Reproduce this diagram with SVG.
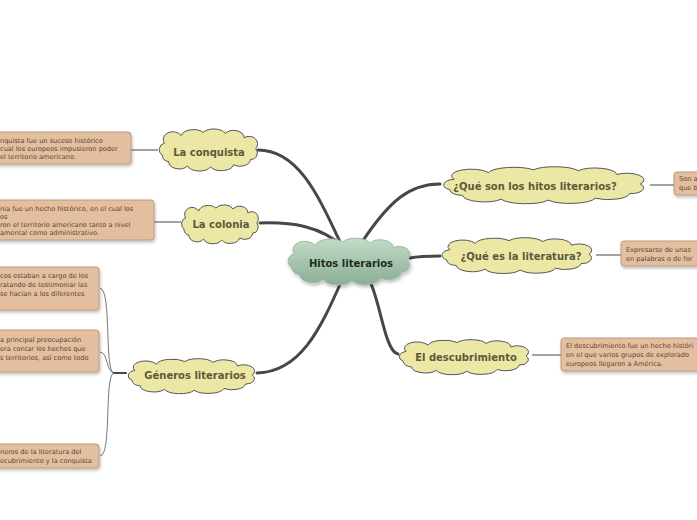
<svg xmlns="http://www.w3.org/2000/svg" xmlns:xlink="http://www.w3.org/1999/xlink" width="697" height="520" viewBox="0 0 697 520">
<defs>
<path id="cloud" d="M6,26 A6,6 0 0 1 8,15 A9,7 0 0 1 24,8 A12,7 0 0 1 45,5 A12,7 0 0 1 66,6 A10,7 0 0 1 84,10 A8,7 0 0 1 95,20 A6,6 0 0 1 90,30 A10,7 0 0 1 74,35 A12,7 0 0 1 52,37 A12,7 0 0 1 30,36 A10,7 0 0 1 12,32 A6,6 0 0 1 6,26 Z" vector-effect="non-scaling-stroke"/>
<linearGradient id="g" x1="0" y1="0" x2="0" y2="1"><stop offset="0" stop-color="#c4dcc8"/><stop offset="1" stop-color="#8aae94"/></linearGradient>
<filter id="sh" x="-10%" y="-10%" width="130%" height="140%"><feDropShadow dx="1" dy="2" stdDeviation="1.5" flood-color="#000" flood-opacity="0.25"/></filter>
</defs>
<style>
.c{fill:#ede7a6;stroke:#555;stroke-width:1}
.ct{font-family:Verdana,"DejaVu Sans",sans-serif;font-weight:bold;font-size:10px;fill:#5a5a3a;text-anchor:middle}
.b{fill:#e3bf9f;stroke:#b89a80;stroke-width:1;filter:url(#sh)}
.bt{font-family:"DejaVu Sans",sans-serif;font-size:6.6px;fill:#5b4535}
.m{fill:none;stroke:#474747;stroke-width:3;stroke-linecap:round}
.l{fill:none;stroke:#666;stroke-width:1.2}
.t{fill:none;stroke:#555;stroke-width:0.8}
</style>
<rect width="697" height="520" fill="#fff"/>
<g id="connectors">
<path class="m" d="M343,248 C320,200 300,150 258,150"/>
<path class="m" d="M345,248 C320,225 290,222 260,223"/>
<path class="m" d="M342,280 C320,330 300,372 257,373"/>
<path class="m" d="M362,242 C390,200 410,184 440,184"/>
<path class="m" d="M410,258 C420,256 430,256 440,256"/>
<path class="m" d="M370,282 C380,300 385,352 398,354"/>
<path class="l" d="M131,150 H158"/>
<path class="l" d="M154,222 H181"/>
<path class="l" d="M650,185 H674"/>
<path class="l" d="M596,255 H621"/>
<path class="l" d="M532,355 H561"/>
<path class="m" style="stroke-width:2" d="M126,373 H114"/>
<path class="t" d="M114,373 C104,372 112,290 100,288"/>
<path class="t" d="M114,373 C106,372 108,352 100,352"/>
<path class="t" d="M114,373 C104,374 112,456 100,456"/>
</g>
<g id="hitos"><use xlink:href="#cloud" transform="translate(284,236) scale(1.3,1.2)" fill="url(#g)" stroke="#9cbaa3" filter="url(#sh)"/><text class="ct" x="351" y="267" style="fill:#1e2e22">Hitos literarios</text></g>
<g id="conquista"><use xlink:href="#cloud" class="c" transform="translate(156,127) scale(1.05,1.08)"/><text class="ct" x="209" y="156">La conquista</text></g>
<g id="colonia"><use xlink:href="#cloud" class="c" transform="translate(179,203) scale(0.82,1.0)"/><text class="ct" x="221" y="228">La colonia</text></g>
<g id="generos"><use xlink:href="#cloud" class="c" transform="translate(124,357) scale(1.35,0.9)"/><text class="ct" x="195" y="379">Géneros literarios</text></g>
<g id="que-son"><use xlink:href="#cloud" class="c" transform="translate(437,165) scale(2.14,0.95)"/><text class="ct" x="535" y="190">¿Qué son los hitos literarios?</text></g>
<g id="que-es"><use xlink:href="#cloud" class="c" transform="translate(437,236) scale(1.6,0.92)"/><text class="ct" x="521" y="260">¿Qué es la literatura?</text></g>
<g id="descubrimiento"><use xlink:href="#cloud" class="c" transform="translate(395,338) scale(1.38,0.9)"/><text class="ct" x="466" y="361">El descubrimiento</text></g>
<g id="b-conquista"><rect class="b" x="-10" y="132" width="141" height="32" rx="3"/><text class="bt"><tspan x="0" y="143">nquista fue un suceso histórico</tspan><tspan x="0" y="151">cual los europeos impusieron poder</tspan><tspan x="0" y="159">el territorio americano.</tspan></text></g>
<g id="b-colonia"><rect class="b" x="-10" y="200" width="164" height="40" rx="3"/><text class="bt"><tspan x="0" y="211">nia fue un hecho histórico, en el cual los</tspan><tspan x="0" y="219">os</tspan><tspan x="0" y="227">ron el territorio americano tanto a nivel</tspan><tspan x="0" y="235">amental como administrativo.</tspan></text></g>
<g id="b-gen1"><rect class="b" x="-10" y="267" width="109" height="43" rx="3"/><text class="bt"><tspan x="0" y="278">cos estaban a cargo de los</tspan><tspan x="0" y="287">ratando de testimoniar las</tspan><tspan x="0" y="296">se hacian a los diferentes</tspan></text></g>
<g id="b-gen2"><rect class="b" x="-10" y="330" width="109" height="42" rx="3"/><text class="bt"><tspan x="0" y="342">a principal preocupación</tspan><tspan x="0" y="351">era contar los hechos que</tspan><tspan x="0" y="360">s territorios, así como todo</tspan></text></g>
<g id="b-gen3"><rect class="b" x="-10" y="444" width="109" height="24" rx="3"/><text class="bt"><tspan x="0" y="454">neros de la literatura del</tspan><tspan x="0" y="463">ecubrimiento y la conquista</tspan></text></g>
<g id="b-queson"><rect class="b" x="674" y="172" width="40" height="23" rx="3"/><text class="bt"><tspan x="679" y="181">Son a</tspan><tspan x="679" y="190">que b</tspan></text></g>
<g id="b-quees"><rect class="b" x="621" y="241" width="90" height="25" rx="3"/><text class="bt"><tspan x="626" y="252">Expresarse de unas</tspan><tspan x="626" y="261">en palabras o de for</tspan></text></g>
<g id="b-desc"><rect class="b" x="561" y="338" width="150" height="33" rx="3"/><text class="bt"><tspan x="566" y="348">El descubrimiento fue un hecho históri</tspan><tspan x="566" y="357">en el que varios grupos de explorado</tspan><tspan x="566" y="366">europeos llegaron a América.</tspan></text></g>
</svg>
